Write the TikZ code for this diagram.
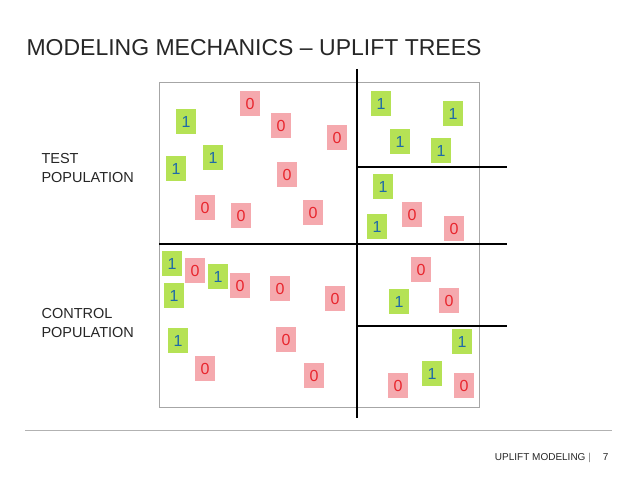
\documentclass[tikz,border=0pt]{standalone}
\usepackage{fontspec}
\setmainfont{Liberation Sans}
\begin{document}
\begin{tikzpicture}[x=1pt,y=-1pt,
 one/.style={fill=gr,text=bl,minimum width=20pt,minimum height=25pt,inner sep=0pt,font=\fontsize{16}{16}\selectfont},
 zero/.style={fill=pk,text=rd,minimum width=20pt,minimum height=25pt,inner sep=0pt,font=\fontsize{16}{16}\selectfont},
 side/.style={align=left,anchor=west,font=\fontsize{14.5}{19}\selectfont,text=tx},
 cut/.style={black,line width=1.6pt}]
\definecolor{gr}{HTML}{B5E255}\definecolor{pk}{HTML}{F5A9AE}
\definecolor{bl}{HTML}{1E6AA8}\definecolor{rd}{HTML}{E8262E}\definecolor{tx}{HTML}{262626}
\useasboundingbox[fill=white] (0,0) rectangle (638,478);
\node[anchor=west,font=\fontsize{23}{23}\selectfont,text=tx] (title) at (23,48) {MODELING MECHANICS – UPLIFT TREES};
\draw[gray!70] (159,82) rectangle (479,407);
\coordinate (hl) at (159,244); \coordinate (hr) at (507,244);
\draw[cut] (hl) -- (hr);
\coordinate (vt) at (357,69); \coordinate (vb) at (357,418);
\draw[cut] (vt) -- (vb);
\coordinate (a1) at (357,167); \coordinate (a2) at (507,167);
\draw[cut] (a1) -- (a2);
\coordinate (b1) at (357,326); \coordinate (b2) at (507,326);
\draw[cut] (b1) -- (b2);
\node[side] (t) at (38,168) {TEST\\POPULATION};
\node[side] (c) at (38,323) {CONTROL\\POPULATION};
\foreach \x/\y [count=\i] in {250/104,281/126,337/138,287/175,205/208,241/216,313/213,412/215,454/229,
 195/271,240/286,280/289,335/299,286/340,205/369,314/376,421/270,449/301,398/386,464/386}
 \node[zero] (z\i) at (\x,\y) {0};
\foreach \x/\y [count=\i] in {186/122,213/158,176/169,381/104,453/114,400/142,441/151,383/187,377/227,
 172/264,218/277,174/296,178/341,399/302,462/342,432/374}
 \node[one] (o\i) at (\x,\y) {1};
\coordinate (l1) at (25,430); \coordinate (l2) at (612,430);
\draw[gray!60] (l1) -- (l2);
\node[anchor=east,font=\fontsize{10}{10}\selectfont,text=tx] (f) at (612,458) {UPLIFT MODELING \textcolor{gray}{|}\hspace{12pt}7};
\end{tikzpicture}
\end{document}
